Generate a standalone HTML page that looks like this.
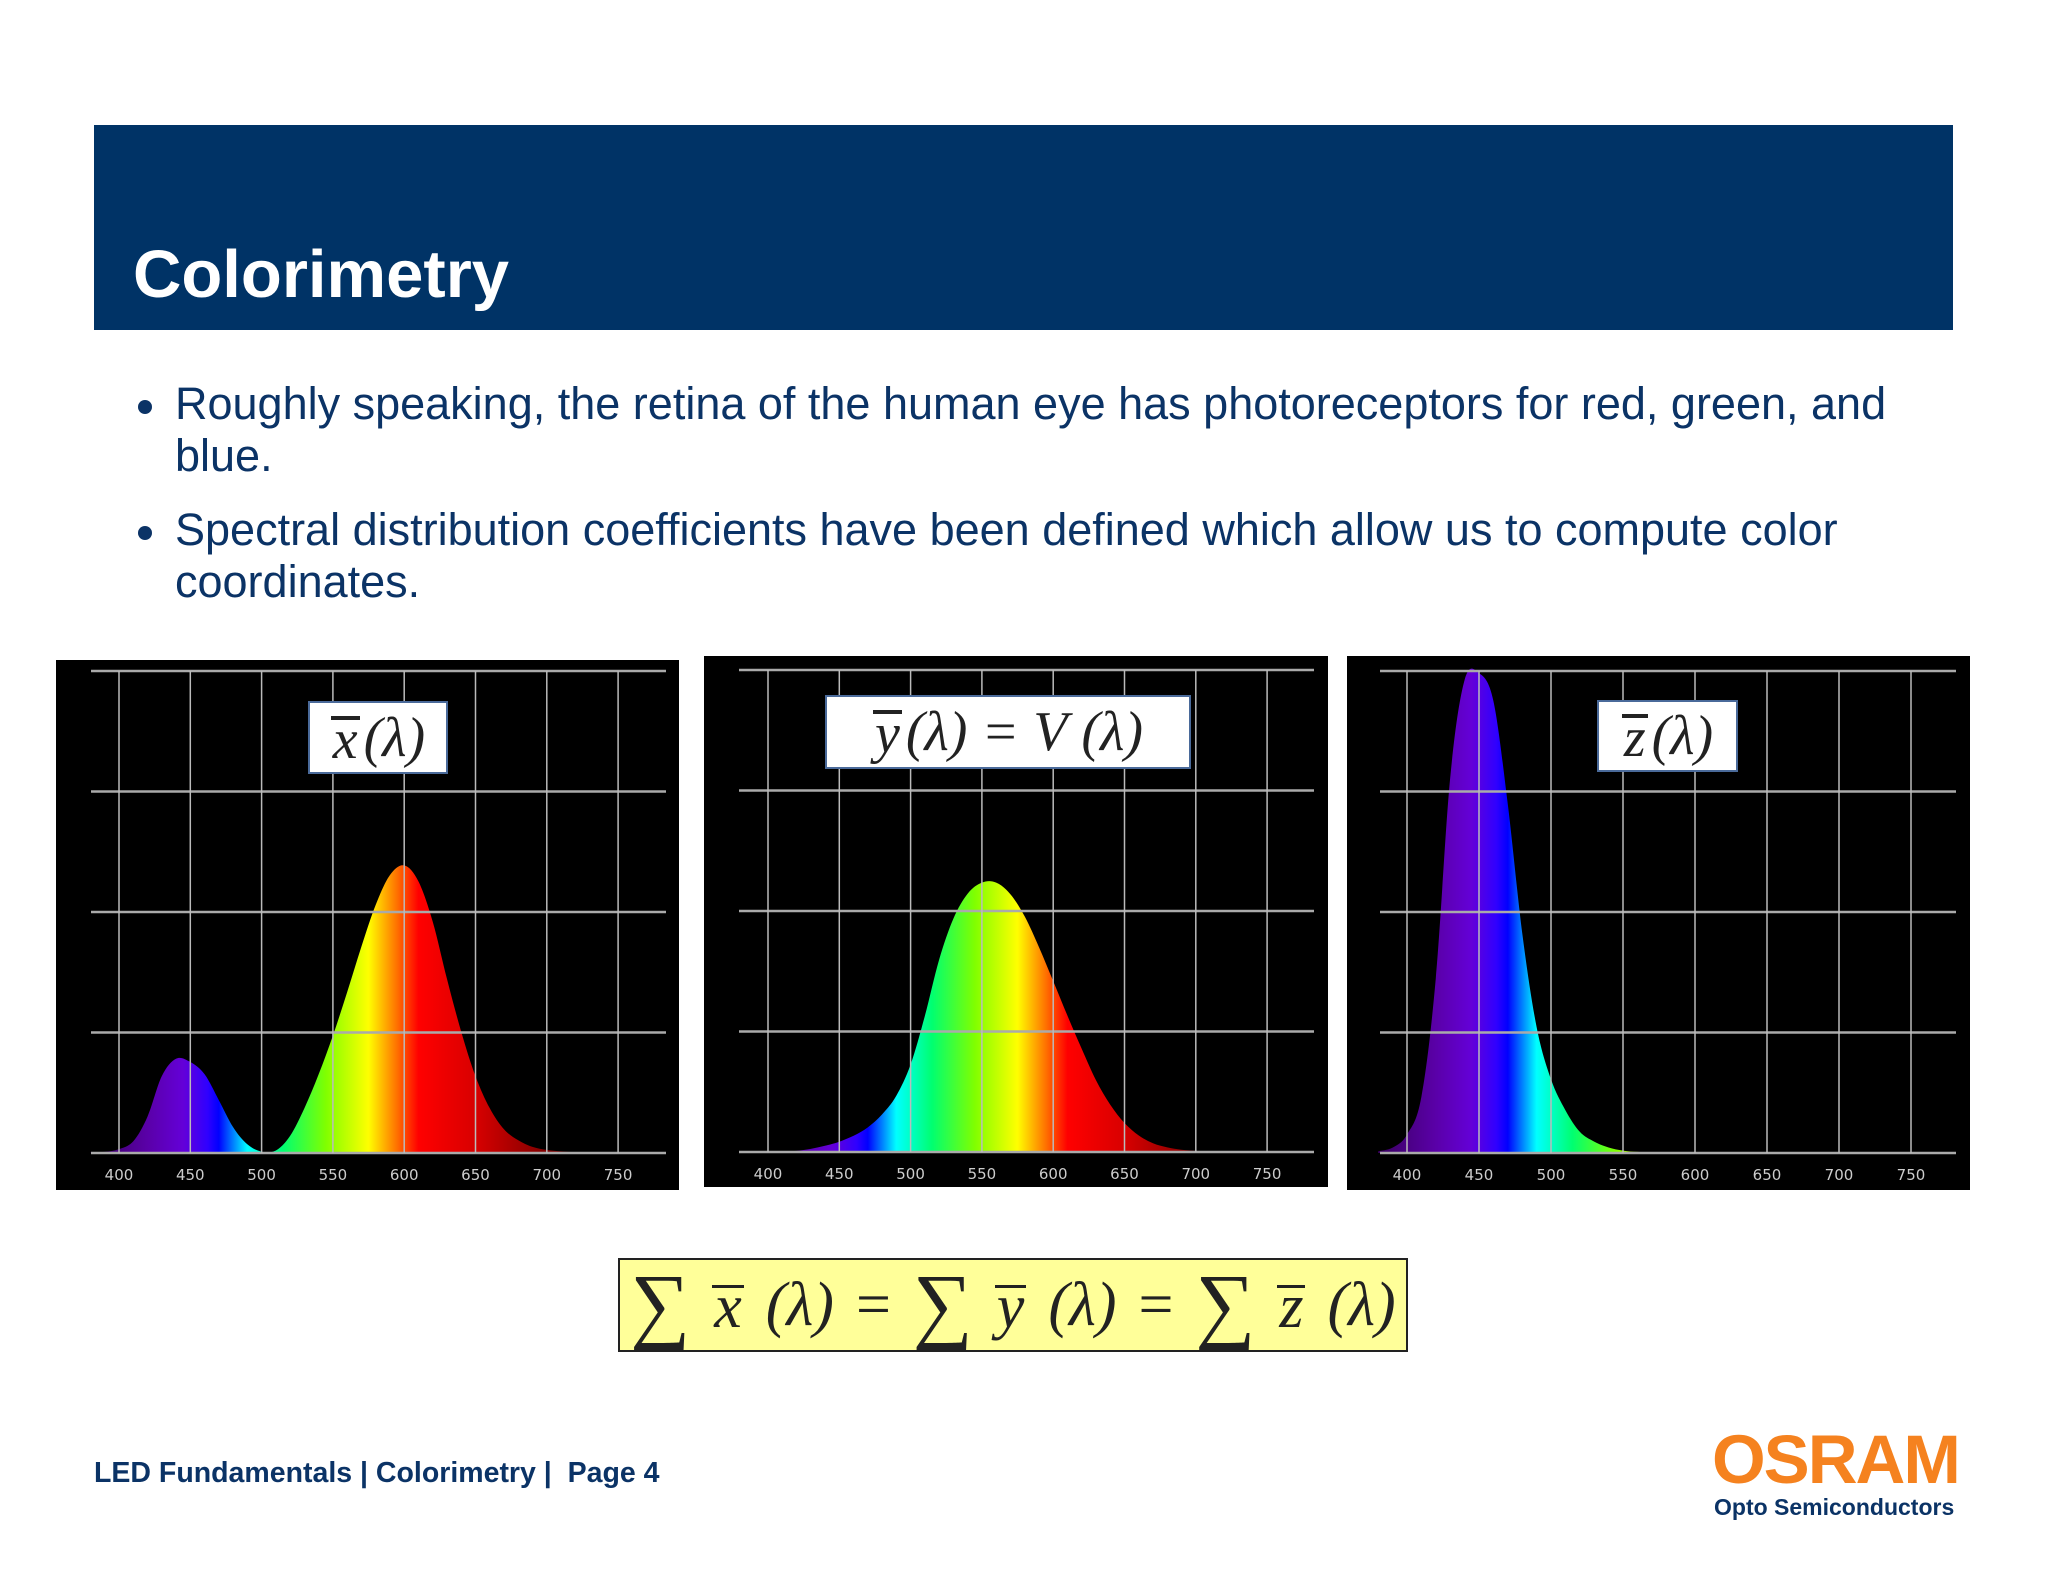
<!DOCTYPE html>
<html><head><meta charset="utf-8">
<style>
body{margin:0;width:2048px;height:1582px;background:#fff;position:relative;overflow:hidden;font-family:"Liberation Sans",sans-serif}
.abs{position:absolute}
#hdr{left:94px;top:125px;width:1859px;height:205px;background:#003366}
#title{left:133px;top:240px;color:#fff;font-weight:bold;font-size:67px;line-height:70px}
.bl{color:#0b3366;font-size:45px;line-height:52px;left:175px;width:1730px}
.dot{left:138px;width:14px;height:14px;border-radius:50%;background:#0b3366}
.lbl{background:#fff;border:2px solid #4a6a9a;font-family:"Liberation Serif",serif;font-style:italic;color:#222;display:flex;align-items:center;justify-content:center;font-size:56px;box-sizing:border-box;gap:4px}
.ov{border-top:4px solid #222;line-height:40px;padding:0 2px}
#formula{left:618px;top:1258px;width:790px;height:94px;background:#ffff99;border:2px solid #222;box-sizing:border-box;font-family:"Liberation Serif",serif;font-size:62px;color:#222;display:flex;align-items:center;justify-content:center;gap:22px}
#formula i{font-style:italic}
#formula .s{font-size:84px;line-height:80px}
#formula .ov{border-top-width:3px;line-height:38px}
#footer{left:94px;top:1457px;font-size:28.5px;font-weight:bold;color:#0b3366}
#osram{left:1712px;top:1420px;font-size:69px;font-weight:bold;color:#f5821f;letter-spacing:-2px}
#opto{left:1714px;top:1494px;font-size:23px;font-weight:bold;color:#0b3366}
</style></head><body>
<div id="hdr" class="abs"></div>
<div id="title" class="abs">Colorimetry</div>
<div class="abs dot" style="top:400px"></div>
<div class="abs bl" style="top:378px">Roughly speaking, the retina of the human eye has photoreceptors for red, green, and blue.</div>
<div class="abs dot" style="top:526px"></div>
<div class="abs bl" style="top:504px">Spectral distribution coefficients have been defined which allow us to compute color coordinates.</div>

<svg id="c1" class="abs" style="left:56px;top:660px" width="623" height="530"></svg>
<svg id="c2" class="abs" style="left:704px;top:656px" width="624" height="531"></svg>
<svg id="c3" class="abs" style="left:1347px;top:656px" width="623" height="534"></svg>

<div class="abs lbl" style="left:308px;top:701px;width:140px;height:73px"><span class="ov">x</span><span>(λ)</span></div>
<div class="abs lbl" style="left:825px;top:695px;width:366px;height:74px"><span class="ov">y</span><span>(λ)&nbsp;=&nbsp;V&nbsp;(λ)</span></div>
<div class="abs lbl" style="left:1597px;top:700px;width:141px;height:72px"><span class="ov">z</span><span>(λ)</span></div>

<div id="formula" class="abs"><span class="s">∑</span><i class="ov">x</i><i>(λ)</i><span>=</span><span class="s">∑</span><i class="ov">y</i><i>(λ)</i><span>=</span><span class="s">∑</span><i class="ov">z</i><i>(λ)</i></div>

<div id="footer" class="abs">LED Fundamentals | Colorimetry |&nbsp; Page 4</div>
<div id="osram" class="abs">OSRAM</div>
<div id="opto" class="abs">Opto Semiconductors</div>

<script>
const wavelengths=[380,390,400,410,420,430,440,450,460,470,480,490,500,510,520,530,540,550,560,570,580,590,600,610,620,630,640,650,660,670,680,690,700,710,720,730,740,750,760,770,780];
const xbar=[0.0014,0.0042,0.0143,0.0435,0.1344,0.2839,0.3483,0.3362,0.2908,0.1954,0.0956,0.0320,0.0049,0.0093,0.0633,0.1655,0.2904,0.4334,0.5945,0.7621,0.9163,1.0263,1.0622,1.0026,0.8544,0.6424,0.4479,0.2835,0.1649,0.0874,0.0468,0.0227,0.0114,0.0058,0.0029,0.0014,0.0007,0.0003,0.0002,0.0001,0];
const ybar=[0,0.0001,0.0004,0.0012,0.0040,0.0116,0.0230,0.0380,0.0600,0.0910,0.1390,0.2080,0.3230,0.5030,0.7100,0.8620,0.9540,0.9950,0.9950,0.9520,0.8700,0.7570,0.6310,0.5030,0.3810,0.2650,0.1750,0.1070,0.0610,0.0320,0.0170,0.0082,0.0041,0.0021,0.0010,0.0005,0.0002,0.0001,0.0001,0,0];
const zbar=[0.0065,0.0201,0.0679,0.2074,0.6456,1.3856,1.7471,1.7721,1.6692,1.2876,0.8130,0.4652,0.2720,0.1582,0.0782,0.0422,0.0203,0.0087,0.0039,0.0021,0.0017,0,0,0,0,0,0,0,0,0,0,0,0,0,0,0,0,0,0,0,0];
const tickLabels=[400,450,500,550,600,650,700,750];
const yGridValues=[0,0.445,0.89,1.335,1.78];
const NS="http://www.w3.org/2000/svg";
const spectrum=[[380,"#3a0060"],[420,"#5a00a8"],[445,"#6400d8"],[462,"#3000ff"],[470,"#0000ff"],[490,"#00ffff"],[515,"#00ff70"],[545,"#80ff00"],[575,"#ffff00"],[595,"#ff7000"],[610,"#ff0000"],[650,"#d80000"],[700,"#800000"],[780,"#500000"]];
function mk(t,a,p){const e=document.createElementNS(NS,t);for(const k in a)e.setAttribute(k,a[k]);p.appendChild(e);return e;}
function chart(id,vals,cfg){
  const s=document.getElementById(id);
  const W=+s.getAttribute('width'),H=+s.getAttribute('height');
  const r=mk('rect',{x:0,y:0,width:W,height:H,fill:'#000'},s);
  
  const xs=l=>cfg.x400+(l-400)*cfg.px50/50;
  const ys=v=>cfg.y0-v/0.445*cfg.pyUnit;
  const defs=mk('defs',{},s);
  const g=mk('linearGradient',{id:id+'g',gradientUnits:'userSpaceOnUse',x1:xs(380),x2:xs(780),y1:0,y2:0},defs);
  spectrum.forEach(([l,c])=>mk('stop',{offset:((l-380)/400),'stop-color':c},g));
  const pts=wavelengths.map((l,i)=>[xs(l),ys(vals[i])]);
  let d='M'+pts[0][0].toFixed(1)+','+ys(0).toFixed(1)+' L'+pts[0][0].toFixed(1)+','+pts[0][1].toFixed(1);
  for(let i=0;i<pts.length-1;i++){
    const p0=pts[Math.max(0,i-1)],p1=pts[i],p2=pts[i+1],p3=pts[Math.min(pts.length-1,i+2)];
    const c1=[p1[0]+(p2[0]-p0[0])/6,Math.min(ys(0),p1[1]+(p2[1]-p0[1])/6)];
    const c2=[p2[0]-(p3[0]-p1[0])/6,Math.min(ys(0),p2[1]-(p3[1]-p1[1])/6)];
    d+=' C'+c1[0].toFixed(1)+','+c1[1].toFixed(1)+' '+c2[0].toFixed(1)+','+c2[1].toFixed(1)+' '+p2[0].toFixed(1)+','+p2[1].toFixed(1);
  }
  d+=' L'+xs(780)+','+ys(0)+'Z';
  const p=mk('path',{d:d,fill:'url(#'+id+'g)'},s);
  
  yGridValues.forEach(v=>{
    const ln=mk('line',{x1:cfg.gx1,x2:cfg.gx2,y1:ys(v),y2:ys(v),stroke:'#aaa','stroke-width':2.5},s);
    
  });
  tickLabels.forEach(t=>{
    const ln=mk('line',{x1:xs(t),x2:xs(t),y1:ys(1.78),y2:ys(0),stroke:'#bbb','stroke-width':1.5},s);
    
    const tx=mk('text',{x:xs(t),y:ys(0)+27,fill:'#ccc','font-size':15,'text-anchor':'middle','font-family':'DejaVu Sans, sans-serif'},s);
    tx.textContent=t;
    
  });
}
chart('c1',xbar,{x400:63,px50:71.3,y0:493,pyUnit:120.5,gx1:35,gx2:610});
chart('c2',ybar,{x400:64,px50:71.3,y0:496,pyUnit:120.5,gx1:35,gx2:610});
chart('c3',zbar,{x400:60,px50:72,y0:497,pyUnit:120.5,gx1:33,gx2:609});
</script>
</body></html>
